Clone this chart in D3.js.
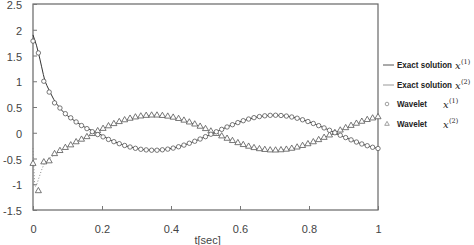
<!DOCTYPE html>
<html>
<head>
<meta charset="utf-8">
<script src="https://d3js.org/d3.v7.min.js"></script>
<style>
	body { margin:0; background:#fff; }
	svg { font-family: "Liberation Sans", Arial, sans-serif; }
	.tick text { fill:#444; font-size:11px; }
	.legend text { fill:#222; font-size:8.5px; font-weight:bold; }
</style>
</head>
<body>
<div class="chartContainer"></div>
<script>
// exact solution, sampled times
var tExact=[0,0.005,0.01,0.015,0.02,0.025,0.03,0.035,0.04,0.05,0.06,0.07,0.08,0.09,0.1,0.125,0.15,0.175,0.2,
	0.225,0.25,0.275,0.3,0.325,0.35,0.375,0.4,0.425,0.45,0.475,0.5,0.525,0.55,0.575,0.6,0.625,0.65,0.675,0.7,
	0.725,0.75,0.775,0.8,0.825,0.85,0.875,0.9,0.925,0.95,0.975,1];
var x1Exact=[1.90,1.80,1.70,1.57,1.43,1.28,1.13,1.00,0.92,0.78,0.65,0.55,0.46,0.39,0.33,0.21,0.11,0.03,-0.05,
	-0.147,-0.212,-0.266,-0.306,-0.332,-0.34,-0.332,-0.306,-0.266,-0.212,-0.147,-0.076,0,0.076,0.147,0.212,0.266,0.306,0.332,0.34,
	0.332,0.306,0.266,0.212,0.147,0.076,0,-0.076,-0.147,-0.212,-0.266,-0.306];
var x2Exact=[-0.30,-1.05,-1.02,-0.92,-0.82,-0.72,-0.64,-0.58,-0.54,-0.49,-0.44,-0.40,-0.35,-0.31,-0.27,-0.18,-0.09,-0.01,0.07,
	0.147,0.212,0.266,0.306,0.332,0.34,0.332,0.306,0.266,0.212,0.147,0.076,0,-0.076,-0.147,-0.212,-0.266,-0.306,-0.332,-0.34,
	-0.332,-0.306,-0.266,-0.212,-0.147,-0.076,0,0.076,0.147,0.212,0.266,0.306];

// wavelet solution, 65 points (step 1/64)
var tWave=[0,0.0156,0.0313,0.0469,0.0625,0.0781,0.0938,0.1094,0.125,0.1406,0.1563,0.1719,0.1875,0.2031,0.2188,0.2344,
	0.25,0.2656,0.2813,0.2969,0.3125,0.3281,0.3438,0.3594,0.375,0.3906,0.4063,0.4219,0.4375,0.4531,0.4688,0.4844,
	0.5,0.5156,0.5313,0.5469,0.5625,0.5781,0.5938,0.6094,0.625,0.6406,0.6563,0.6719,0.6875,0.7031,0.7188,0.7344,
	0.75,0.7656,0.7813,0.7969,0.8125,0.8281,0.8438,0.8594,0.875,0.8906,0.9063,0.9219,0.9375,0.9531,0.9688,0.9844,1];
var x1Wave=[1.78,1.55,1.00,0.79,0.58,0.48,0.37,0.29,0.21,0.14,0.08,0.02,-0.035,-0.08,-0.130,-0.173,
	-0.212,-0.247,-0.277,-0.302,-0.321,-0.333,-0.339,-0.339,-0.331,-0.318,-0.298,-0.272,-0.240,-0.204,-0.165,-0.122,
	-0.076,-0.029,0.019,0.066,0.112,0.156,0.197,0.234,0.266,0.293,0.314,0.329,0.338,0.340,0.335,0.324,
	0.306,0.282,0.252,0.218,0.180,0.138,0.094,0.048,0,-0.048,-0.094,-0.138,-0.180,-0.218,-0.252,-0.282,-0.306];
var x2Wave=[-0.60,-1.13,-0.57,-0.55,-0.41,-0.35,-0.29,-0.24,-0.18,-0.13,-0.08,-0.02,0.035,0.08,0.130,0.173,
	0.212,0.247,0.277,0.302,0.321,0.333,0.339,0.339,0.331,0.318,0.298,0.272,0.240,0.204,0.165,0.122,
	0.076,0.029,-0.019,-0.066,-0.112,-0.156,-0.197,-0.234,-0.266,-0.293,-0.314,-0.329,-0.338,-0.340,-0.335,-0.324,
	-0.306,-0.282,-0.252,-0.218,-0.180,-0.138,-0.094,-0.048,0,0.048,0.094,0.138,0.180,0.218,0.252,0.282,0.306];

var xTicks=[0,0.2,0.4,0.6,0.8,1];
var yTicks=[-1.5,-1,-0.5,0,0.5,1,1.5,2,2.5];

var margin={top:4, right:96, bottom:35, left:33};
var totalWidth=474, totalHeight=245;
var width=totalWidth-margin.left-margin.right,
	height=totalHeight-margin.top-margin.bottom;

var svg=d3.select(".chartContainer").append("svg")
	.attr("width",totalWidth)
	.attr("height",totalHeight)
	.append("g")
	.attr("transform","translate("+margin.left+","+margin.top+")");

var x=d3.scaleLinear().domain([0,1]).range([0,width]);
var y=d3.scaleLinear().domain([-1.5,2.5]).range([height,0]);

var fmt=function(d){ return String(d); };

// frame
svg.append("rect")
	.attr("width",width).attr("height",height)
	.attr("fill","none").attr("stroke","#666").attr("stroke-width",1.2);

var xAxis=d3.axisBottom(x).tickValues(xTicks).tickSize(-4).tickPadding(15).tickFormat(fmt);
var yAxis=d3.axisLeft(y).tickValues(yTicks).tickSize(-4).tickPadding(11).tickFormat(fmt);

svg.append("g").attr("class","x-axis")
	.attr("transform","translate(0,"+height+")")
	.call(xAxis);
svg.append("g").attr("class","y-axis")
	.call(yAxis);
svg.selectAll(".domain").remove();
svg.selectAll(".tick line").attr("stroke","#777");
svg.selectAll(".y-axis .tick text").attr("dy","0.42em");

svg.append("text")
	.attr("x",x(0.506)).attr("y",height+34)
	.attr("text-anchor","middle")
	.attr("fill","#444").style("font-size","11px")
	.text("t[sec]");

// exact x2 (dotted, gray)
var line=function(ts){
	return d3.line().x(function(d,i){ return x(ts[i]); }).y(function(d){ return y(d); });
};
svg.append("path")
	.attr("d",line(tExact)(x2Exact))
	.attr("fill","none").attr("stroke","#888").attr("stroke-width",1)
	.attr("stroke-dasharray","1,2");
svg.append("path")
	.attr("d",line(tExact)(x1Exact))
	.attr("fill","none").attr("stroke","#333").attr("stroke-width",1);

var tri=d3.symbol().type(d3.symbolTriangle).size(16);

svg.selectAll(".w2").data(x2Wave).enter().append("path")
	.attr("class","w2")
	.attr("d",tri)
	.attr("transform",function(d,i){ return "translate("+x(tWave[i])+","+y(d)+")"; })
	.attr("fill","#fff").attr("stroke","#555").attr("stroke-width",0.8);

svg.selectAll(".w1").data(x1Wave).enter().append("circle")
	.attr("class","w1")
	.attr("cx",function(d,i){ return x(tWave[i]); })
	.attr("cy",function(d){ return y(d); })
	.attr("r",2.2)
	.attr("fill","#fff").attr("stroke","#555").attr("stroke-width",0.8);

// legend
var legendItems=[
	{label:"Exact solution", sup:"(1)", kind:"solid", w:55, xs:72},
	{label:"Exact solution", sup:"(2)", kind:"gray", w:55, xs:72},
	{label:"Wavelet", sup:"(1)", kind:"circle", w:30, xs:60},
	{label:"Wavelet", sup:"(2)", kind:"triangle", w:30, xs:60}
];
var legendY=[65,85,104,124];
var lg=d3.select("svg").append("g").attr("class","legend");
legendItems.forEach(function(it,i){
	var g=lg.append("g").attr("transform","translate(383,"+legendY[i]+")");
	if(it.kind=="solid" || it.kind=="gray"){
		g.append("line").attr("x1",0).attr("x2",11).attr("y1",0).attr("y2",0)
			.attr("stroke",it.kind=="solid"?"#555":"#999").attr("stroke-width",1);
	} else if(it.kind=="circle"){
		g.append("circle").attr("cx",4).attr("cy",0).attr("r",1.8)
			.attr("fill","#fff").attr("stroke","#888").attr("stroke-width",0.8);
	} else {
		g.append("path").attr("d",d3.symbol().type(d3.symbolTriangle).size(9))
			.attr("transform","translate(4,0)")
			.attr("fill","#fff").attr("stroke","#888").attr("stroke-width",0.8);
	}
	g.append("text").attr("x",14).attr("y",3)
		.attr("textLength",it.w).attr("lengthAdjust","spacingAndGlyphs")
		.text(it.label);
	g.append("text").attr("x",it.xs).attr("y",4)
		.style("font-family","'DejaVu Serif', serif").style("font-style","italic")
		.style("font-weight","normal").style("font-size","10px")
		.text("x");
	g.append("text").attr("x",it.xs+6).attr("y",-1)
		.style("font-family","'DejaVu Serif', serif")
		.style("font-weight","normal").style("font-size","6.5px")
		.text(it.sup);
});
</script>
</body>
</html>
